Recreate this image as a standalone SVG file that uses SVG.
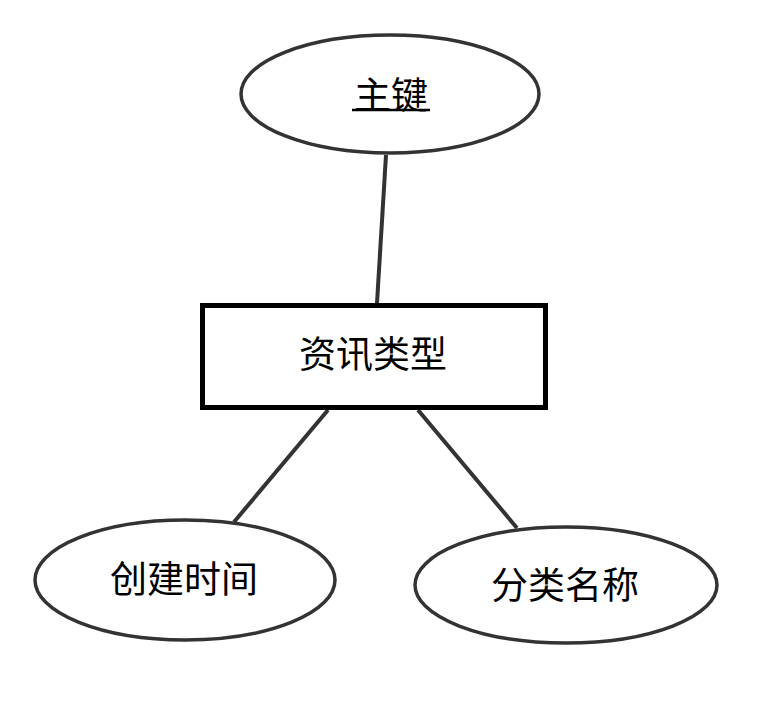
<svg xmlns="http://www.w3.org/2000/svg" width="764" height="720" viewBox="0 0 764 720">
<style>
.attr{fill:#fff;stroke:#333;stroke-width:3.5}
.ent{fill:#fff;stroke:#000;stroke-width:5}
.lbl{font-family:"Noto Sans CJK SC","Noto Sans",sans-serif;font-size:37px;fill:#000;text-anchor:middle;dominant-baseline:central}
.conn{stroke:#333;stroke-width:4;fill:none}
</style>
<rect width="764" height="720" fill="#fff"/>
<g id="connectors">
<line class="conn" x1="386" y1="155" x2="377" y2="303"/>
<line class="conn" x1="328" y1="410" x2="234" y2="522"/>
<line class="conn" x1="418" y1="410" x2="517" y2="528"/>
</g>
<g id="pk">
<ellipse class="attr" cx="390" cy="94" rx="149" ry="59"/>
<text class="lbl" x="391" y="93">主键</text>
<line x1="352" y1="110" x2="430" y2="110" stroke="#000" stroke-width="2.5"/>
</g>
<g id="entity">
<rect class="ent" x="202.5" y="305.5" width="343" height="102"/>
<text class="lbl" x="373" y="352">资讯类型</text>
</g>
<g id="created">
<ellipse class="attr" cx="185" cy="580" rx="150" ry="60"/>
<text class="lbl" x="184" y="577">创建时间</text>
</g>
<g id="catname">
<ellipse class="attr" cx="566" cy="585" rx="151" ry="58"/>
<text class="lbl" x="565" y="583">分类名称</text>
</g>
</svg>
